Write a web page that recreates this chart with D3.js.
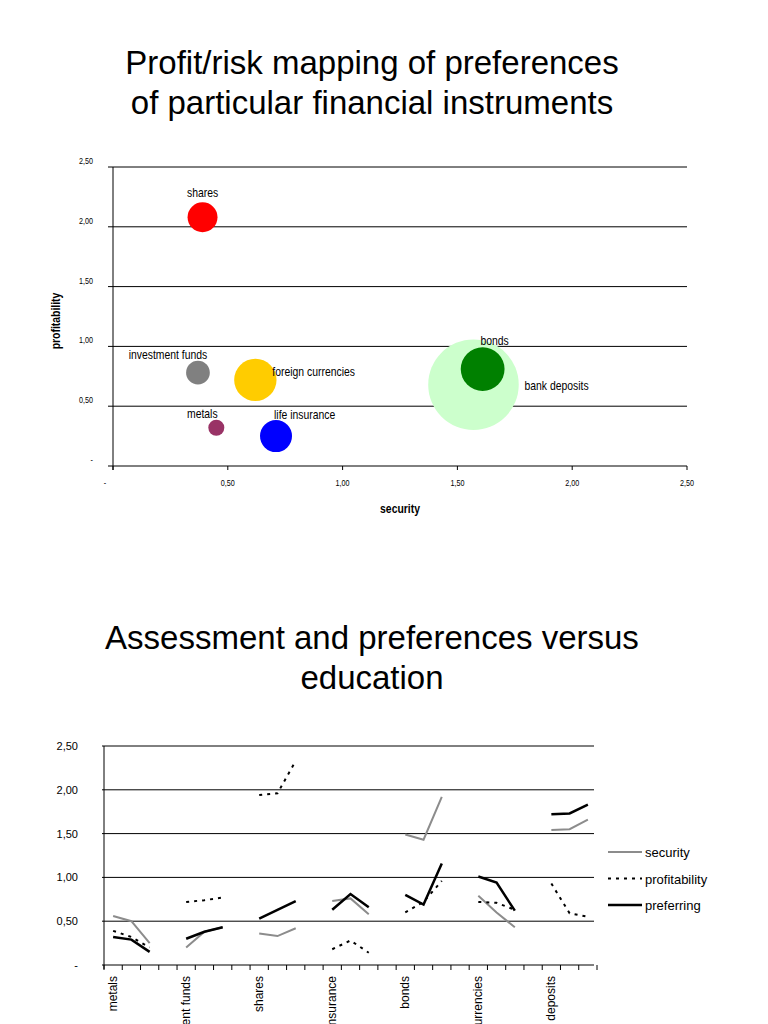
<!DOCTYPE html>
<html><head><meta charset="utf-8">
<script src="https://cdn.jsdelivr.net/npm/d3@7"></script>
<style>body{margin:0;background:#fff}svg{display:block}</style>
</head><body><svg id="c" width="768" height="1024"></svg>
<script>
// Bubble chart data
const instruments = ["shares","investment funds","foreign currencies","metals","life insurance","bonds","bank deposits"];
const securityVals = [0.39,0.37,0.62,0.45,0.71,1.61,1.57];
const profitVals = [2.08,0.78,0.72,0.32,0.25,0.81,0.68];
const bubbleSize = [3.5,2.2,7,1,4,7.5,32];
const bubbleColors = ["#ff0000","#808080","#ffcc00","#993366","#0000ff","#008000","#ccffcc"];
const axisTicks = [0,0.5,1,1.5,2,2.5];
const tickLabels = ["-","0,50","1,00","1,50","2,00","2,50"];

// Line chart data
const groups = ["metals","investment funds","shares","life insurance","bonds","foreign currencies","bank deposits"];
const secSeries = [[0.56,0.50,0.25],[0.20,0.38,0.43],[0.36,0.33,0.42],[0.73,0.76,0.58],[1.49,1.43,1.92],[0.79,0.60,0.43],[1.54,1.55,1.66]];
const profSeries = [[0.39,0.32,0.20],[0.72,0.74,0.77],[1.94,1.96,2.33],[0.18,0.28,0.14],[0.60,0.72,0.96],[0.72,0.71,0.63],[0.93,0.59,0.55]];
const prefSeries = [[0.32,0.29,0.15],[0.30,0.38,0.43],[0.53,0.63,0.73],[0.63,0.81,0.66],[0.80,0.69,1.16],[1.01,0.94,0.62],[1.72,1.73,1.83]];
const seriesNames = ["security","profitability","preferring"];

const svg = d3.select("#c");
const sans = "'Liberation Sans',Arial,sans-serif";

// condensed text helper (horizontal squeeze)
function ctext(g,x,y,anchor,size,str,bold){
  return g.append("text").attr("transform",`translate(${x},${y}) scale(0.8,1)`).attr("text-anchor",anchor)
    .attr("font-family",sans).attr("font-size",size).attr("font-weight",bold?"bold":null).text(str);
}

// Titles
[["Profit/risk mapping of preferences",74],["of particular financial instruments",114],["Assessment and preferences versus",649],["education",689]].forEach(([t,y])=>{
  svg.append("text").attr("x",372).attr("y",y).attr("text-anchor","middle").attr("font-family",sans).attr("font-size",33).text(t);
});

// Bubble chart
const x1 = d3.scaleLinear().domain([0,2.5]).range([113,687]);
const y1 = d3.scaleLinear().domain([0,2.5]).range([466,167]);
const r1 = d3.scaleSqrt().domain([0,1]).range([0,8]);
const g1 = svg.append("g");
axisTicks.forEach((t,i)=>{
  g1.append("line").attr("x1",108).attr("x2",687).attr("y1",y1(t)).attr("y2",y1(t)).attr("stroke","#000");
  ctext(g1,93,y1(t)-3,"end",9,tickLabels[i]);
  g1.append("line").attr("x1",x1(t)).attr("x2",x1(t)).attr("y1",466).attr("y2",470).attr("stroke","#000");
  ctext(g1,x1(t)-(i===0?8:0),486,"middle",9,tickLabels[i]);
});
g1.append("line").attr("x1",113).attr("x2",113).attr("y1",167).attr("y2",470).attr("stroke","#000");
ctext(g1,400,513,"middle",13,"security",true);
g1.append("text").attr("transform","translate(60,321) rotate(-90) scale(0.8,1)").attr("text-anchor","middle").attr("font-family",sans).attr("font-size",13).attr("font-weight","bold").text("profitability");
const order = d3.range(instruments.length).sort((a,b)=>bubbleSize[b]-bubbleSize[a]);
order.forEach(i=>{
  g1.append("circle").attr("cx",x1(securityVals[i])).attr("cy",y1(profitVals[i])).attr("r",r1(bubbleSize[i])).attr("fill",bubbleColors[i]);
});
const labelOff = [[0,-20,"middle"],[-30,-14,"middle"],[17,-4,"start"],[-14,-10,"middle"],[-2,-17,"start"],[12,-24,"middle"],[51,5,"start"]];
instruments.forEach((n,i)=>{
  const [dx,dy,a]=labelOff[i];
  ctext(g1,x1(securityVals[i])+dx,y1(profitVals[i])+dy,a,13,n);
});

// Line chart
const nSlots = groups.length*4-1;
const x2 = d3.scaleLinear().domain([0,nSlots]).range([104,597]);
const y2 = d3.scaleLinear().domain([0,2.5]).range([965,746]);
const g2 = svg.append("g");
axisTicks.forEach((t,i)=>{
  g2.append("line").attr("x1",102).attr("x2",594).attr("y1",y2(t)).attr("y2",y2(t)).attr("stroke","#000");
  g2.append("text").attr("x",78).attr("y",y2(t)+4).attr("text-anchor","end").attr("font-family",sans).attr("font-size",11).text(tickLabels[i]);
});
g2.append("line").attr("x1",104).attr("x2",104).attr("y1",746).attr("y2",969).attr("stroke","#000");
d3.range(nSlots+1).forEach(k=>{
  g2.append("line").attr("x1",x2(k)).attr("x2",x2(k)).attr("y1",965).attr("y2",970).attr("stroke","#000");
});
groups.forEach((n,gi)=>{
  g2.append("text").attr("transform",`translate(${x2(gi*4+0.5)+4},976) rotate(-90)`).attr("text-anchor","end").attr("font-family",sans).attr("font-size",12).text(n);
});
const styles = [{c:"#8c8c8c",w:2,d:null},{c:"#000",w:2,d:"3,5"},{c:"#000",w:2.5,d:null}];
const line = d3.line().x(d=>x2(d[0]+0.5)).y(d=>y2(d[1]));
[secSeries,profSeries,prefSeries].forEach((s,si)=>{
  s.forEach((vals,gi)=>{
    g2.append("path").attr("d",line(vals.map((v,j)=>[gi*4+j,v]))).attr("fill","none")
      .attr("stroke",styles[si].c).attr("stroke-width",styles[si].w).attr("stroke-dasharray",styles[si].d);
  });
  const ly=852+si*26.5;
  g2.append("line").attr("x1",608).attr("x2",642).attr("y1",ly).attr("y2",ly).attr("stroke",styles[si].c).attr("stroke-width",styles[si].w).attr("stroke-dasharray",styles[si].d);
  g2.append("text").attr("x",645).attr("y",ly+5).attr("font-family",sans).attr("font-size",13).text(seriesNames[si]);
});
</script></body></html>
